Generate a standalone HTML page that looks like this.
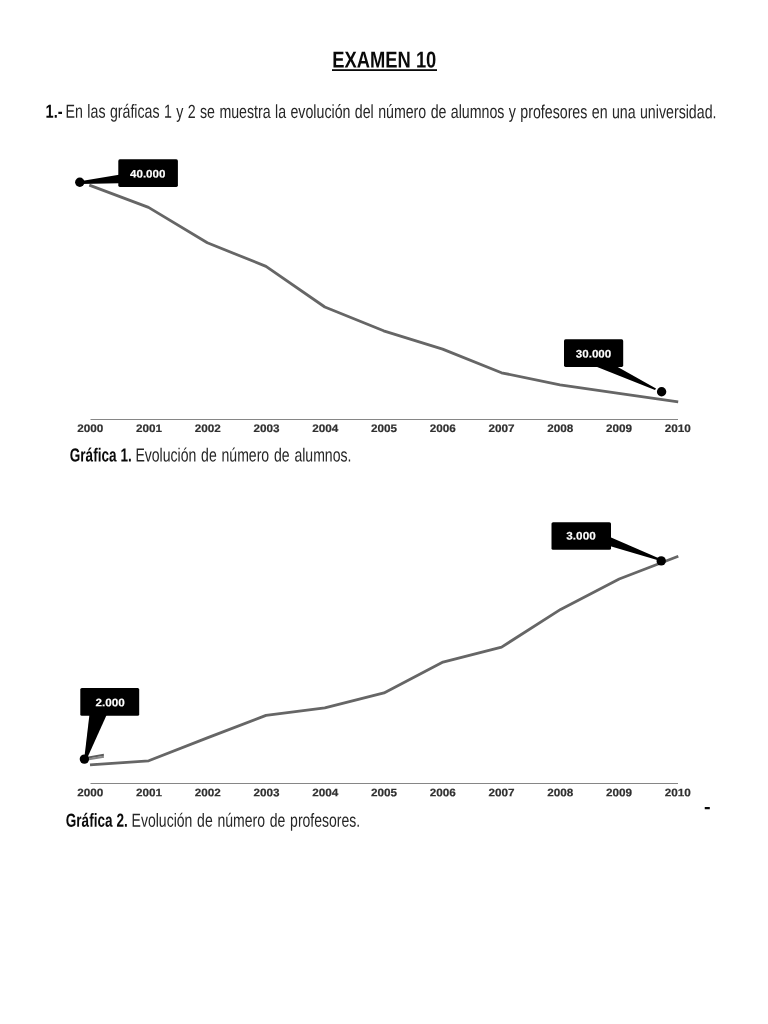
<!DOCTYPE html>
<html lang="es">
<head>
<meta charset="utf-8">
<title>EXAMEN 10</title>
<style>
html,body{margin:0;padding:0;background:#fff;}
body{width:768px;height:1024px;overflow:hidden;position:relative;font-family:"Liberation Sans",sans-serif;}
svg{position:absolute;left:0;top:0;display:block;}
text{font-family:"Liberation Sans",sans-serif;text-rendering:geometricPrecision;}
.b{font-weight:bold;fill:#0a0a0a;}
.r{fill:#262626;}
.ax{font-weight:bold;font-size:10.9px;fill:#303030;stroke:#303030;stroke-width:0.2;text-anchor:middle;}
.lab{font-weight:bold;font-size:10.9px;fill:#fff;stroke:#fff;stroke-width:0.15;text-anchor:middle;}
.ln{fill:none;stroke:#666;stroke-width:2.8;stroke-linejoin:round;stroke-linecap:butt;}
.axl{stroke:#868686;stroke-width:1;fill:none;}
</style>
</head>
<body>
<svg width="768" height="1024" viewBox="0 0 768 1024">
<!-- title -->
<text class="b" transform="translate(332.3,67.5) rotate(0.04)" font-size="23" textLength="104" lengthAdjust="spacingAndGlyphs">EXAMEN 10</text>
<rect x="332" y="69.2" width="105" height="1.8" fill="#0a0a0a"/>
<!-- paragraph -->
<text class="b" transform="translate(45.6,117.8) rotate(0.04)" font-size="19" textLength="17" lengthAdjust="spacingAndGlyphs">1.-</text>
<text class="r" transform="translate(65.6,117.8) rotate(0.04)" font-size="19" textLength="650.9" word-spacing="0.6" lengthAdjust="spacingAndGlyphs">En las gráficas 1 y 2 se muestra la evolución del número de alumnos y profesores en una universidad.</text>

<!-- chart 1 -->
<line class="axl" x1="90.5" y1="419.5" x2="678" y2="419.5"/>
<polyline class="ln" points="89.3,185.1 148.5,207.4 207.3,242.7 266,266.4 324.8,307 383.6,330.8 442.6,349.1 501.5,372.8 560,384.8 618.8,393.4 678.2,401.8"/>
<circle cx="79.8" cy="182.2" r="4.7" fill="#000"/>
<polygon points="80,181.2 119,174.7 119,183.3 80,184" fill="#000"/>
<rect x="118.3" y="159.3" width="59.6" height="27.6" rx="1.6" fill="#000"/>
<text class="lab" transform="translate(147.7,177.6) rotate(0.04)" textLength="35.4" lengthAdjust="spacingAndGlyphs">40.000</text>
<circle cx="661.6" cy="391.7" r="4.7" fill="#000"/>
<polygon points="596.5,366.8 617.3,366.8 656,388.4 655,390.1" fill="#000"/>
<rect x="564" y="339.3" width="59.2" height="27.6" rx="1.6" fill="#000"/>
<text class="lab" transform="translate(593.5,357.6) rotate(0.04)" textLength="35.4" lengthAdjust="spacingAndGlyphs">30.000</text>
<g>
<text class="ax" transform="translate(90.20,432) rotate(0.04)" textLength="26.1" lengthAdjust="spacingAndGlyphs">2000</text>
<text class="ax" transform="translate(148.95,432) rotate(0.04)" textLength="26.1" lengthAdjust="spacingAndGlyphs">2001</text>
<text class="ax" transform="translate(207.70,432) rotate(0.04)" textLength="26.1" lengthAdjust="spacingAndGlyphs">2002</text>
<text class="ax" transform="translate(266.45,432) rotate(0.04)" textLength="26.1" lengthAdjust="spacingAndGlyphs">2003</text>
<text class="ax" transform="translate(325.20,432) rotate(0.04)" textLength="26.1" lengthAdjust="spacingAndGlyphs">2004</text>
<text class="ax" transform="translate(383.95,432) rotate(0.04)" textLength="26.1" lengthAdjust="spacingAndGlyphs">2005</text>
<text class="ax" transform="translate(442.70,432) rotate(0.04)" textLength="26.1" lengthAdjust="spacingAndGlyphs">2006</text>
<text class="ax" transform="translate(501.45,432) rotate(0.04)" textLength="26.1" lengthAdjust="spacingAndGlyphs">2007</text>
<text class="ax" transform="translate(560.20,432) rotate(0.04)" textLength="26.1" lengthAdjust="spacingAndGlyphs">2008</text>
<text class="ax" transform="translate(618.95,432) rotate(0.04)" textLength="26.1" lengthAdjust="spacingAndGlyphs">2009</text>
<text class="ax" transform="translate(677.70,432) rotate(0.04)" textLength="26.1" lengthAdjust="spacingAndGlyphs">2010</text>
</g>
<text class="b" transform="translate(69.8,461.4) rotate(0.04)" font-size="19" textLength="62" word-spacing="0.3" lengthAdjust="spacingAndGlyphs">Gráfica 1.</text>
<text class="r" transform="translate(135.4,461.4) rotate(0.04)" font-size="19" textLength="216" word-spacing="1.2" lengthAdjust="spacingAndGlyphs">Evolución de número de alumnos.</text>

<!-- chart 2 -->
<line class="axl" x1="90.5" y1="783.5" x2="678" y2="783.5"/>
<polyline class="ln" points="90,764.8 148.7,760.8 207.3,737.9 266,715.4 324.8,707.8 384,692.9 443,662.1 501.6,647.1 560.6,609.4 619.2,579 678.3,556.3"/>
<line x1="84.4" y1="758.2" x2="103.9" y2="754.8" stroke="#5c5c5c" stroke-width="1.9"/>
<line x1="84.4" y1="760.1" x2="103.9" y2="756.7" stroke="#868686" stroke-width="2"/>
<polygon points="89.4,715 106.6,715 86.8,759.1 84.2,759.1" fill="#000"/>
<circle cx="84.4" cy="759.1" r="4.7" fill="#000"/>
<rect x="80.3" y="688" width="58.9" height="27.8" rx="1.6" fill="#000"/>
<text class="lab" transform="translate(110.2,706.3) rotate(0.04)" textLength="29.3" lengthAdjust="spacingAndGlyphs">2.000</text>
<polygon points="610.5,537.3 610.5,546.2 664,562 664,560.4" fill="#000"/>
<circle cx="661.2" cy="560.9" r="4.7" fill="#000"/>
<rect x="551.5" y="522.15" width="59.5" height="27.6" rx="1.6" fill="#000"/>
<text class="lab" transform="translate(581,539.6) rotate(0.04)" textLength="29.3" lengthAdjust="spacingAndGlyphs">3.000</text>
<g>
<text class="ax" transform="translate(90.20,796.2) rotate(0.04)" textLength="26.1" lengthAdjust="spacingAndGlyphs">2000</text>
<text class="ax" transform="translate(148.95,796.2) rotate(0.04)" textLength="26.1" lengthAdjust="spacingAndGlyphs">2001</text>
<text class="ax" transform="translate(207.70,796.2) rotate(0.04)" textLength="26.1" lengthAdjust="spacingAndGlyphs">2002</text>
<text class="ax" transform="translate(266.45,796.2) rotate(0.04)" textLength="26.1" lengthAdjust="spacingAndGlyphs">2003</text>
<text class="ax" transform="translate(325.20,796.2) rotate(0.04)" textLength="26.1" lengthAdjust="spacingAndGlyphs">2004</text>
<text class="ax" transform="translate(383.95,796.2) rotate(0.04)" textLength="26.1" lengthAdjust="spacingAndGlyphs">2005</text>
<text class="ax" transform="translate(442.70,796.2) rotate(0.04)" textLength="26.1" lengthAdjust="spacingAndGlyphs">2006</text>
<text class="ax" transform="translate(501.45,796.2) rotate(0.04)" textLength="26.1" lengthAdjust="spacingAndGlyphs">2007</text>
<text class="ax" transform="translate(560.20,796.2) rotate(0.04)" textLength="26.1" lengthAdjust="spacingAndGlyphs">2008</text>
<text class="ax" transform="translate(618.95,796.2) rotate(0.04)" textLength="26.1" lengthAdjust="spacingAndGlyphs">2009</text>
<text class="ax" transform="translate(677.70,796.2) rotate(0.04)" textLength="26.1" lengthAdjust="spacingAndGlyphs">2010</text>
</g>
<text class="b" transform="translate(65.8,826.7) rotate(0.04)" font-size="19" textLength="62" word-spacing="0.3" lengthAdjust="spacingAndGlyphs">Gráfica 2.</text>
<text class="r" transform="translate(131.6,826.7) rotate(0.04)" font-size="19" textLength="228.6" word-spacing="1.2" lengthAdjust="spacingAndGlyphs">Evolución de número de profesores.</text>
<text class="b" transform="translate(704.1,813.1) rotate(0.04)" font-size="18.6" textLength="6.6" lengthAdjust="spacingAndGlyphs">-</text>
</svg>
</body>
</html>
